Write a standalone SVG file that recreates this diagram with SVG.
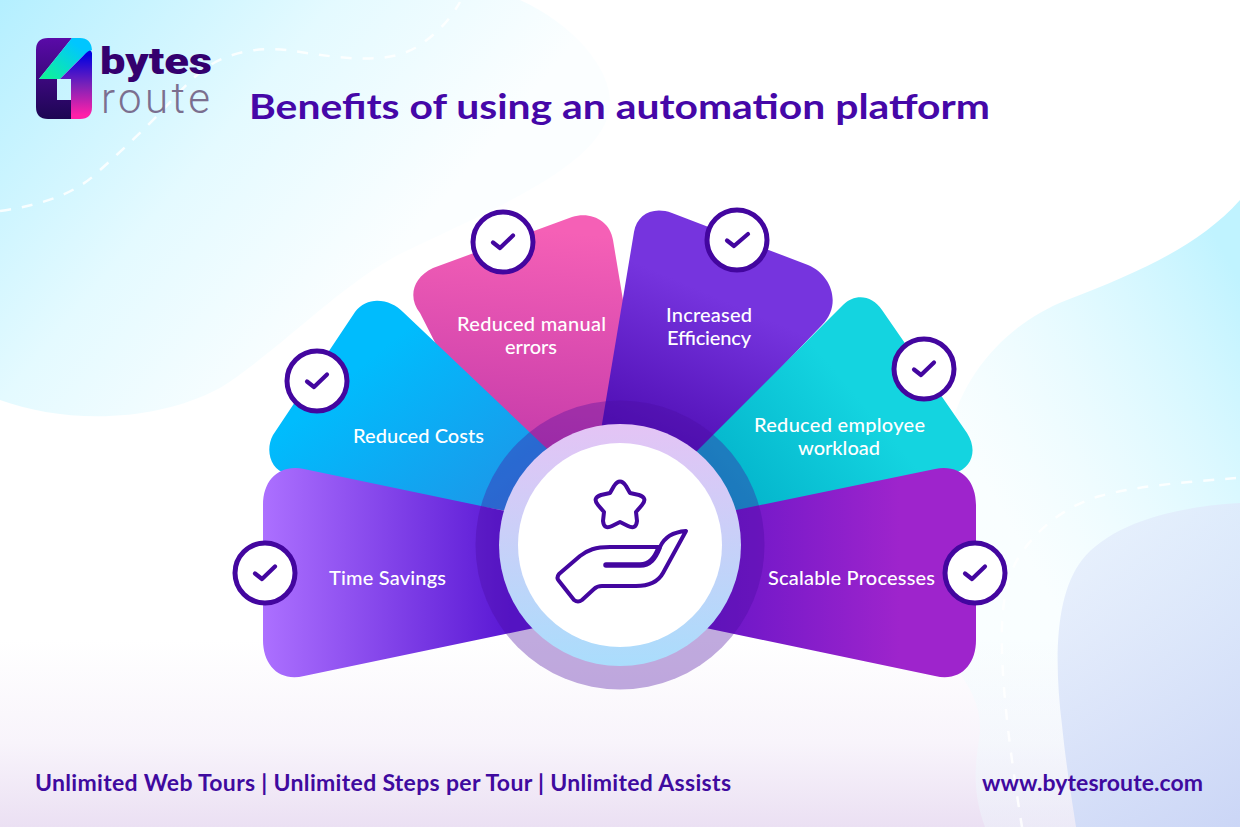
<svg xmlns="http://www.w3.org/2000/svg" width="1240" height="827" viewBox="0 0 1240 827">
<style>
.lbl{font-family:"Lato","Liberation Sans",sans-serif;font-size:20px;font-weight:500;fill:#fff;text-anchor:start}
.foot{font-family:"Lato","Liberation Sans",sans-serif;font-size:23px;font-weight:700;fill:#3f0a9f}
.dash{fill:none;stroke:#fff;stroke-width:2.5;stroke-dasharray:11 11;opacity:.85}
.badge{fill:#fff;stroke:#43069f;stroke-width:5}
.tick{fill:none;stroke:#43069f;stroke-width:4.2;stroke-linecap:round;stroke-linejoin:round}
.icon{fill:none;stroke:#43069f;stroke-width:4;stroke-linejoin:round;stroke-linecap:round}
</style>
<defs>
<linearGradient id="bgB" x1="0" y1="640" x2="0" y2="827" gradientUnits="userSpaceOnUse"><stop offset="0" stop-color="#fff"/><stop offset=".55" stop-color="#f8f4fb"/><stop offset="1" stop-color="#ebe0f3"/></linearGradient>
<linearGradient id="blobTL" x1="0" y1="0" x2="360" y2="300" gradientUnits="userSpaceOnUse"><stop offset="0" stop-color="#b4efff"/><stop offset=".55" stop-color="#e4faff"/><stop offset="1" stop-color="#fbfeff"/></linearGradient>
<linearGradient id="blobR" x1="1240" y1="280" x2="960" y2="440" gradientUnits="userSpaceOnUse"><stop offset="0" stop-color="#c0f3ff"/><stop offset="1" stop-color="#eefcff" stop-opacity=".35"/></linearGradient>
<linearGradient id="blobBR" x1="1240" y1="827" x2="1060" y2="540" gradientUnits="userSpaceOnUse"><stop offset="0" stop-color="#cbd6f6"/><stop offset="1" stop-color="#e4edfc" stop-opacity=".75"/></linearGradient>
<linearGradient id="gCyan" x1="380" y1="350" x2="510" y2="510" gradientUnits="userSpaceOnUse"><stop offset="0" stop-color="#00bcfd"/><stop offset="1" stop-color="#1d96e8"/></linearGradient>
<linearGradient id="gPink" x1="540" y1="230" x2="520" y2="440" gradientUnits="userSpaceOnUse"><stop offset="0" stop-color="#f560b6"/><stop offset="1" stop-color="#c83dab"/></linearGradient>
<linearGradient id="gViolet" x1="700" y1="290" x2="640" y2="430" gradientUnits="userSpaceOnUse"><stop offset="0" stop-color="#7634de"/><stop offset="1" stop-color="#5110b6"/></linearGradient>
<linearGradient id="gTeal" x1="860" y1="400" x2="730" y2="510" gradientUnits="userSpaceOnUse"><stop offset="0" stop-color="#14d4e0"/><stop offset="1" stop-color="#02b2ca"/></linearGradient>
<linearGradient id="gTime" x1="263" y1="0" x2="510" y2="0" gradientUnits="userSpaceOnUse"><stop offset="0" stop-color="#ac70ff"/><stop offset="1" stop-color="#5a18d4"/></linearGradient>
<linearGradient id="gScale" x1="710" y1="0" x2="900" y2="0" gradientUnits="userSpaceOnUse"><stop offset="0" stop-color="#6a16c8"/><stop offset="1" stop-color="#9e24cc"/></linearGradient>
<linearGradient id="gRing" x1="0" y1="424" x2="0" y2="666" gradientUnits="userSpaceOnUse"><stop offset="0" stop-color="#e4c4f5"/><stop offset="1" stop-color="#aaddfc"/></linearGradient>
<linearGradient id="lDark" x1="0" y1="38" x2="0" y2="119" gradientUnits="userSpaceOnUse"><stop offset="0" stop-color="#5a0aa8"/><stop offset="1" stop-color="#1d0653"/></linearGradient>
<linearGradient id="lArrow" x1="48" y1="80" x2="76" y2="44" gradientUnits="userSpaceOnUse"><stop offset="0" stop-color="#0ff29a"/><stop offset="1" stop-color="#00c6ff"/></linearGradient>
<linearGradient id="lStem" x1="0" y1="55" x2="0" y2="115" gradientUnits="userSpaceOnUse"><stop offset="0" stop-color="#0202e0"/><stop offset=".5" stop-color="#7a22b8"/><stop offset="1" stop-color="#ff20a8"/></linearGradient>
</defs>

<g id="background">
<rect width="1240" height="827" fill="#fff"/>
<rect y="640" width="1240" height="187" fill="url(#bgB)"/>
<path d="M0,0H520C575,25 612,70 610,105C606,165 490,210 400,254C340,285 280,350 220,388C150,425 60,422 0,400Z" fill="url(#blobTL)"/>
<path d="M1240,200C1200,245 1140,272 1067,300C1010,322 965,370 950,430L950,660C965,680 985,705 979,740C973,775 975,800 985,827H1240Z" fill="url(#blobR)"/>
<path d="M1240,503C1170,507 1110,525 1082,560C1055,595 1054,660 1062,725C1066,765 1072,800 1076,827H1240Z" fill="url(#blobBR)"/>
<path class="dash" d="M0,211C40,205 75,195 100,170C125,148 145,128 160,113C180,92 200,66 227,57C250,48 275,48 293,51C340,58 385,65 415,48C435,36 450,20 460,2"/>
<path class="dash" d="M1236,478C1190,482 1140,485 1100,496C1065,506 1035,530 1017,560C1003,585 1001,620 1002,650C1003,700 1012,765 1022,827"/>
</g>

<g id="logo">
<path d="M48,38H72L39,79H57V100H71V119H48Q36,119 36,107V50Q36,38 48,38Z" fill="url(#lDark)"/>
<path d="M72,38H80Q91,38 92,50L88,52Q86,52 60,79H39Z" fill="url(#lArrow)"/>
<path d="M92,50V107Q92,119 80,119H71V79H60L86,53Q91,48 92,53Z" fill="url(#lStem)"/>
<text x="100" y="74" font-family="Roboto,'Liberation Sans',sans-serif" font-size="36" font-weight="900" fill="#34006e" textLength="112" lengthAdjust="spacingAndGlyphs">bytes</text>
<text x="101" y="113" font-family="Roboto,'Liberation Sans',sans-serif" font-size="42" font-weight="300" fill="#7b6f8f" textLength="109">route</text>
</g>

<text id="title" x="249" y="118.500" font-family="Lato,'Liberation Sans',sans-serif" font-size="35" font-weight="700" fill="#4507a8" textLength="741" lengthAdjust="spacingAndGlyphs">Benefits of using an automation platform</text>

<g id="node-reduced-manual-errors">
<path d="M620,537L500,470L420,313C408,298 412,278 433,268L572,217C590,211 610,220 613,240L623,300L640,530Z" fill="url(#gPink)"/>
<text class="lbl" x="457" y="331" textLength="149">Reduced manual</text>
<text class="lbl" x="505" y="354" textLength="52">errors</text>
<circle class="badge" cx="503" cy="242" r="30"/>
<path class="tick" d="M493,242.500L500,248L513,235.500"/>
</g>
<g id="node-increased-efficiency">
<path d="M586,520L634,232C637,215 652,206 672,213L808,265C832,275 842,305 822,325L625,530Z" fill="url(#gViolet)"/>
<text class="lbl" x="666" y="322" textLength="86">Increased</text>
<text class="lbl" x="667" y="345" textLength="84">Efficiency</text>
<circle class="badge" cx="737" cy="240" r="30"/>
<path class="tick" d="M727,240.500L734,246L748,234"/>
</g>
<g id="node-reduced-costs">
<path d="M620,518L403,312C392,300 368,294 355,312L273,435C265,450 270,470 287,474L620,530Z" fill="url(#gCyan)"/>
<text class="lbl" x="353" y="443" textLength="131">Reduced Costs</text>
<circle class="badge" cx="317" cy="381" r="30"/>
<path class="tick" d="M307,381.500L314,387L327,374.500"/>
</g>
<g id="node-reduced-employee-workload">
<path d="M625,523L843,305C855,293 872,295 882,310L967,433C978,450 972,468 955,473L620,535Z" fill="url(#gTeal)"/>
<text class="lbl" x="754" y="432" textLength="171">Reduced employee</text>
<text class="lbl" x="798" y="455" textLength="82">workload</text>
<circle class="badge" cx="924" cy="369" r="30"/>
<path class="tick" d="M914,369.500L921,375L934,362.500"/>
</g>
<g id="node-time-savings">
<path d="M620,535L304,469C279,464 263,480 263,505V640C263,665 279,682 304,676L620,610Z" fill="url(#gTime)"/>
<text class="lbl" x="329" y="585" textLength="117">Time Savings</text>
<circle class="badge" cx="265" cy="573" r="30"/>
<path class="tick" d="M255,573.500L262,579L275,566.500"/>
</g>
<g id="node-scalable-processes">
<path d="M620,534L935,469C960,464 976,480 976,505V640C976,665 960,682 935,676L620,610Z" fill="url(#gScale)"/>
<text class="lbl" x="768" y="585" textLength="167">Scalable Processes</text>
<circle class="badge" cx="975" cy="573" r="30"/>
<path class="tick" d="M965,573.500L972,579L985,566.500"/>
</g>

<g id="hub">
<circle cx="620" cy="545" r="144.500" fill="#4a0ca0" fill-opacity=".35"/>
<circle cx="620" cy="545" r="121" fill="url(#gRing)"/>
<circle cx="620" cy="545" r="102" fill="#fff"/>
<path class="icon" d="M614,486Q620,477 626,486L630,493L639,495Q648,498 642,505L636,512L637,521Q636,530 628,526L620,522L612,526Q604,530 603,521L604,512L598,505Q592,498 601,495L610,493Z"/>
<path class="icon" d="M686,531C672,532 664,538 660,547H610C595,547 588,550 580,556L559,574Q556,578 559,581L574,600Q578,603 582,600L594,589Q597,586 602,586H636C650,586 658,582 663,573Z"/>
<path class="icon" style="stroke-width:5.500" d="M606,565H640C650,565 655,558 659,548"/>
</g>

<g id="footer">
<text class="foot" x="35" y="791" textLength="696">Unlimited Web Tours | Unlimited Steps per Tour | Unlimited Assists</text>
<text class="foot" x="982" y="791" textLength="221">www.bytesroute.com</text>
</g>
</svg>
